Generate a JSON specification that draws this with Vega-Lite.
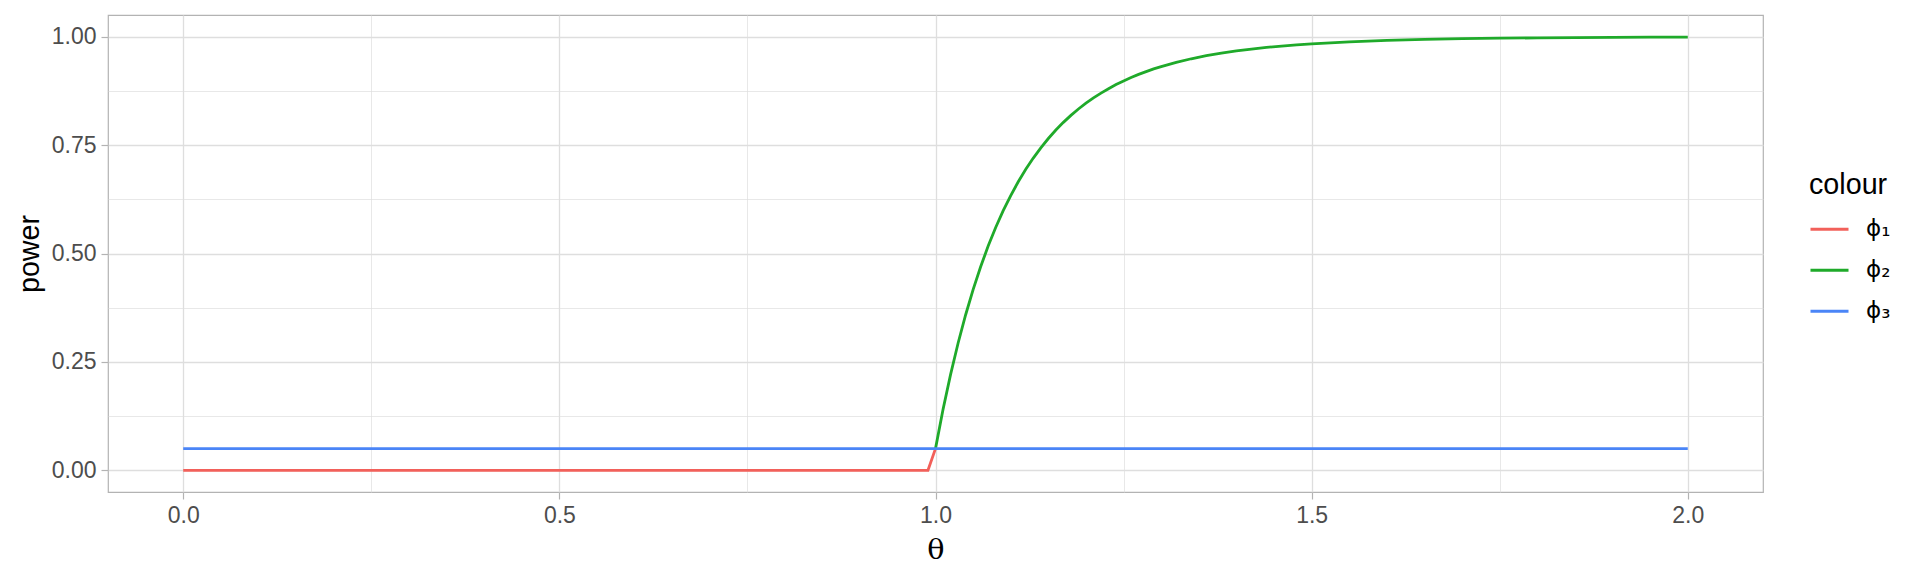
{
  "$schema": "https://vega.github.io/schema/vega-lite/v6.json",
  "width": 1655,
  "height": 477,
  "autosize": {"type": "none"},
  "padding": {"left": 108, "top": 15, "right": 157, "bottom": 84},
  "background": "white",
  "data": {
    "values": [
      {"theta": 0.0, "power": 0.0, "series": "ϕ₁"},
      {"theta": 0.99, "power": 0.0, "series": "ϕ₁"},
      {"theta": 1.0, "power": 0.05, "series": "ϕ₁"},

      {"theta": 1.0, "power": 0.05, "series": "ϕ₂"},
      {"theta": 1.01, "power": 0.14, "series": "ϕ₂"},
      {"theta": 1.02, "power": 0.2207, "series": "ϕ₂"},
      {"theta": 1.03, "power": 0.2931, "series": "ϕ₂"},
      {"theta": 1.04, "power": 0.3582, "series": "ϕ₂"},
      {"theta": 1.05, "power": 0.4168, "series": "ϕ₂"},
      {"theta": 1.06, "power": 0.4695, "series": "ϕ₂"},
      {"theta": 1.07, "power": 0.5171, "series": "ϕ₂"},
      {"theta": 1.08, "power": 0.56, "series": "ϕ₂"},
      {"theta": 1.09, "power": 0.5987, "series": "ϕ₂"},
      {"theta": 1.1, "power": 0.6337, "series": "ϕ₂"},
      {"theta": 1.11, "power": 0.6654, "series": "ϕ₂"},
      {"theta": 1.12, "power": 0.6941, "series": "ϕ₂"},
      {"theta": 1.13, "power": 0.7201, "series": "ϕ₂"},
      {"theta": 1.14, "power": 0.7437, "series": "ϕ₂"},
      {"theta": 1.15, "power": 0.7652, "series": "ϕ₂"},
      {"theta": 1.16, "power": 0.7847, "series": "ϕ₂"},
      {"theta": 1.17, "power": 0.8024, "series": "ϕ₂"},
      {"theta": 1.18, "power": 0.8185, "series": "ϕ₂"},
      {"theta": 1.19, "power": 0.8332, "series": "ϕ₂"},
      {"theta": 1.2, "power": 0.8466, "series": "ϕ₂"},
      {"theta": 1.21, "power": 0.8588, "series": "ϕ₂"},
      {"theta": 1.22, "power": 0.8699, "series": "ϕ₂"},
      {"theta": 1.23, "power": 0.8801, "series": "ϕ₂"},
      {"theta": 1.24, "power": 0.8895, "series": "ϕ₂"},
      {"theta": 1.25, "power": 0.898, "series": "ϕ₂"},
      {"theta": 1.26, "power": 0.9058, "series": "ϕ₂"},
      {"theta": 1.27, "power": 0.913, "series": "ϕ₂"},
      {"theta": 1.28, "power": 0.9195, "series": "ϕ₂"},
      {"theta": 1.29, "power": 0.9256, "series": "ϕ₂"},
      {"theta": 1.3, "power": 0.9311, "series": "ϕ₂"},
      {"theta": 1.32, "power": 0.9408, "series": "ϕ₂"},
      {"theta": 1.34, "power": 0.9491, "series": "ϕ₂"},
      {"theta": 1.36, "power": 0.9561, "series": "ϕ₂"},
      {"theta": 1.38, "power": 0.9621, "series": "ϕ₂"},
      {"theta": 1.4, "power": 0.9672, "series": "ϕ₂"},
      {"theta": 1.42, "power": 0.9715, "series": "ϕ₂"},
      {"theta": 1.44, "power": 0.9752, "series": "ϕ₂"},
      {"theta": 1.46, "power": 0.9784, "series": "ϕ₂"},
      {"theta": 1.48, "power": 0.9812, "series": "ϕ₂"},
      {"theta": 1.5, "power": 0.9835, "series": "ϕ₂"},
      {"theta": 1.55, "power": 0.9881, "series": "ϕ₂"},
      {"theta": 1.6, "power": 0.9914, "series": "ϕ₂"},
      {"theta": 1.65, "power": 0.9936, "series": "ϕ₂"},
      {"theta": 1.7, "power": 0.9953, "series": "ϕ₂"},
      {"theta": 1.75, "power": 0.9965, "series": "ϕ₂"},
      {"theta": 1.8, "power": 0.9973, "series": "ϕ₂"},
      {"theta": 1.85, "power": 0.998, "series": "ϕ₂"},
      {"theta": 1.9, "power": 0.9985, "series": "ϕ₂"},
      {"theta": 1.95, "power": 0.9988, "series": "ϕ₂"},
      {"theta": 2.0, "power": 0.9991, "series": "ϕ₂"},

      {"theta": 0.0, "power": 0.05, "series": "ϕ₃"},
      {"theta": 2.0, "power": 0.05, "series": "ϕ₃"}
    ]
  },
  "mark": {"type": "line", "strokeWidth": 2.8, "clip": true},
  "encoding": {
    "x": {
      "field": "theta",
      "type": "quantitative",
      "title": "θ",
      "scale": {"domain": [-0.1, 2.1], "nice": false, "zero": false},
      "axis": {
        "values": [0, 0.25, 0.5, 0.75, 1, 1.25, 1.5, 1.75, 2],
        "labelExpr": "datum.value % 0.5 == 0 ? format(datum.value, '.1f') : ''",
        "gridWidth": {"condition": {"test": "datum.value % 0.5 != 0", "value": 0.7}, "value": 1.3},
        "tickOpacity": {"condition": {"test": "datum.value % 0.5 != 0", "value": 0}, "value": 1},
        "titleFont": "DejaVu Serif",
        "titlePadding": 8
      }
    },
    "y": {
      "field": "power",
      "type": "quantitative",
      "title": "power",
      "scale": {"domain": [-0.05, 1.05], "nice": false, "zero": false},
      "axis": {
        "values": [0, 0.125, 0.25, 0.375, 0.5, 0.625, 0.75, 0.875, 1],
        "labelExpr": "datum.value % 0.25 == 0 ? format(datum.value, '.2f') : ''",
        "gridWidth": {"condition": {"test": "datum.value % 0.25 != 0", "value": 0.7}, "value": 1.3},
        "tickOpacity": {"condition": {"test": "datum.value % 0.25 != 0", "value": 0}, "value": 1},
        "titlePadding": 7
      }
    },
    "color": {
      "field": "series",
      "type": "nominal",
      "title": "colour",
      "scale": {"domain": ["ϕ₁", "ϕ₂", "ϕ₃"], "range": ["#F2605A", "#1FAA2A", "#4A85F7"]},
      "legend": {
        "orient": "none",
        "legendX": 1701,
        "legendY": 156,
        "symbolType": "stroke",
        "symbolSize": 1444,
        "symbolStrokeWidth": 3,
        "labelOffset": 16,
        "rowPadding": 8,
        "titlePadding": 9,
        "padding": 0
      }
    }
  },
  "config": {
    "font": "Liberation Sans",
    "view": {"stroke": "#b3b3b3", "strokeWidth": 1.2},
    "axis": {
      "domain": false,
      "gridColor": "#dedede",
      "tickColor": "#b3b3b3",
      "tickSize": 7,
      "tickWidth": 1.2,
      "labelColor": "#4d4d4d",
      "labelFontSize": 23,
      "labelFont": "Liberation Sans",
      "labelPadding": 5,
      "titleFontSize": 28.7,
      "titleFontWeight": "normal",
      "titleColor": "black"
    },
    "legend": {
      "titleFontSize": 28.7,
      "titleFontWeight": "normal",
      "titleColor": "black",
      "labelFontSize": 23,
      "labelColor": "black",
      "labelFont": "DejaVu Sans"
    }
  }
}
